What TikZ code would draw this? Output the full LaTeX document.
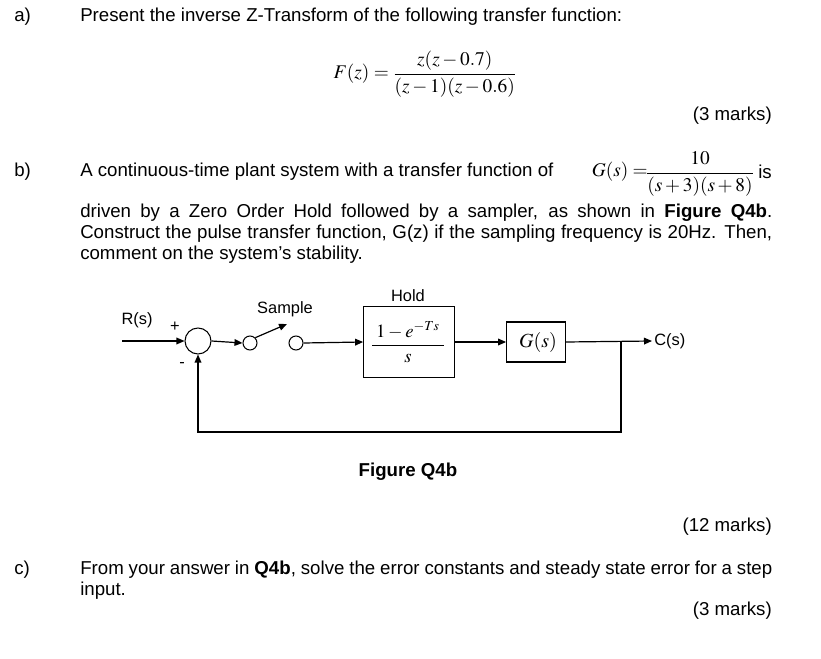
\documentclass[tikz,border=0pt]{standalone}
\usepackage{amsmath}
\usepackage{mathptmx}
\usepackage[no-math]{fontspec}
\setmainfont{Liberation Sans}
\usetikzlibrary{arrows.meta}
\begin{document}
\begin{tikzpicture}[x=0.75pt,y=-0.75pt,
  txt/.style={anchor=west,inner sep=0pt,font=\fontsize{14}{16}\selectfont},
  rtxt/.style={anchor=east,inner sep=0pt,font=\fontsize{14}{16}\selectfont},
  jl/.style={anchor=west,inner sep=0pt,text width=519pt,align=justify,font=\fontsize{14}{16}\selectfont},
  lbl/.style={inner sep=0pt,font=\fontsize{12.3}{14}\selectfont},
  blk/.style={draw,line width=0.8pt,inner sep=0pt},
  ln/.style={line width=0.9pt},
  arr/.style={ln,-{Triangle[length=6pt,width=5pt]}}]
\useasboundingbox (0,0) rectangle (821,659);
% text
\node[txt] (qa) at (14,17) {a)};
\node[txt] (ta) at (80,17) {Present the inverse Z-Transform of the following transfer function:};
\node[inner sep=0pt,font=\fontsize{14.5}{16}\selectfont] (fz) at (425,74) {$F(z)=\dfrac{z(z-0.7)}{(z-1)(z-0.6)}$};
\node[rtxt] (m1) at (772,116) {(3 marks)};
\node[txt] (qb) at (14,172) {b)};
\node[txt] (b1) at (80,172) {A continuous-time plant system with a transfer function of};
\node[anchor=east,inner sep=0pt,font=\fontsize{14.5}{16}\selectfont] (geq) at (648,172) {$G(s)=$};
\node[inner sep=0pt,font=\fontsize{14.5}{16}\selectfont] (gf) at (700,174) {$\dfrac{10}{(s+3)(s+8)}$};
\node[rtxt] (is) at (772,172) {is};
\node[jl] (b2) at (80,213) {\parfillskip=0pt driven by a Zero Order Hold followed by a sampler, as shown in \textbf{Figure Q4b}.\par};
\node[jl] (b3) at (80,234) {\parfillskip=0pt Construct the pulse transfer function, G(z) if the sampling frequency is 20Hz. Then,\par};
\node[txt] (b4) at (80,255) {comment on the system's stability.};
\node[inner sep=0pt,font=\fontsize{14}{16}\selectfont\bfseries] (fig) at (408,472) {Figure Q4b};
\node[rtxt] (m2) at (772,527) {(12 marks)};
\node[txt] (qc) at (14,570) {c)};
\node[jl] (c1) at (80,570) {\parfillskip=0pt From your answer in \textbf{Q4b}, solve the error constants and steady state error for a step\par};
\node[txt] (c2) at (80,591) {input.};
\node[rtxt] (m3) at (772,611) {(3 marks)};
% diagram
\node[draw,circle,line width=0.8pt,minimum size=19.5pt,inner sep=0pt] (sum) at (198,341) {};
\node[draw,circle,line width=0.8pt,minimum size=10.5pt,inner sep=0pt] (s1) at (250,343) {};
\node[draw,circle,line width=0.8pt,minimum size=10.5pt,inner sep=0pt] (s2) at (296,343) {};
\node[blk,minimum width=68pt,minimum height=53pt] (hold) at (409,342) {};
\node[inner sep=0pt,font=\fontsize{14}{16}\selectfont] (hf) at (408,342) {$\dfrac{\;1-e^{-Ts}\;}{s}$};
\node[blk,minimum width=44pt,minimum height=30pt] (g) at (536,342) {};
\node[inner sep=0pt,font=\fontsize{15}{16}\selectfont] (gt) at (538,342) {$G(s)$};
\coordinate (in) at (122,341);
\coordinate (br) at (621,341);
\coordinate (bot) at (621,432);
\coordinate (sw) at (287,324);
\coordinate (out) at (652,341);
\node[lbl,anchor=west] (cs) at (654,341) {C(s)};
\node[lbl] (rs) at (137,320) {R(s)};
\node[lbl] (pl) at (175,327) {+};
\node[lbl] (mi) at (182,365) {-};
\node[lbl] (sa) at (285,309) {Sample};
\node[lbl] (ho) at (408,296) {Hold};
\draw[arr] (in) -- (sum.west);
\draw[arr] (sum.east) -- (s1.west);
\draw[arr] (s1.north east) -- (sw);
\draw[arr] (s2.east) -- (hold.west);
\draw[arr] (hold.east) -- (g.west);
\draw[arr] (g.east) -- (out);
\draw[arr] (br) -- (bot) -| (sum.south);
\end{tikzpicture}
\end{document}
